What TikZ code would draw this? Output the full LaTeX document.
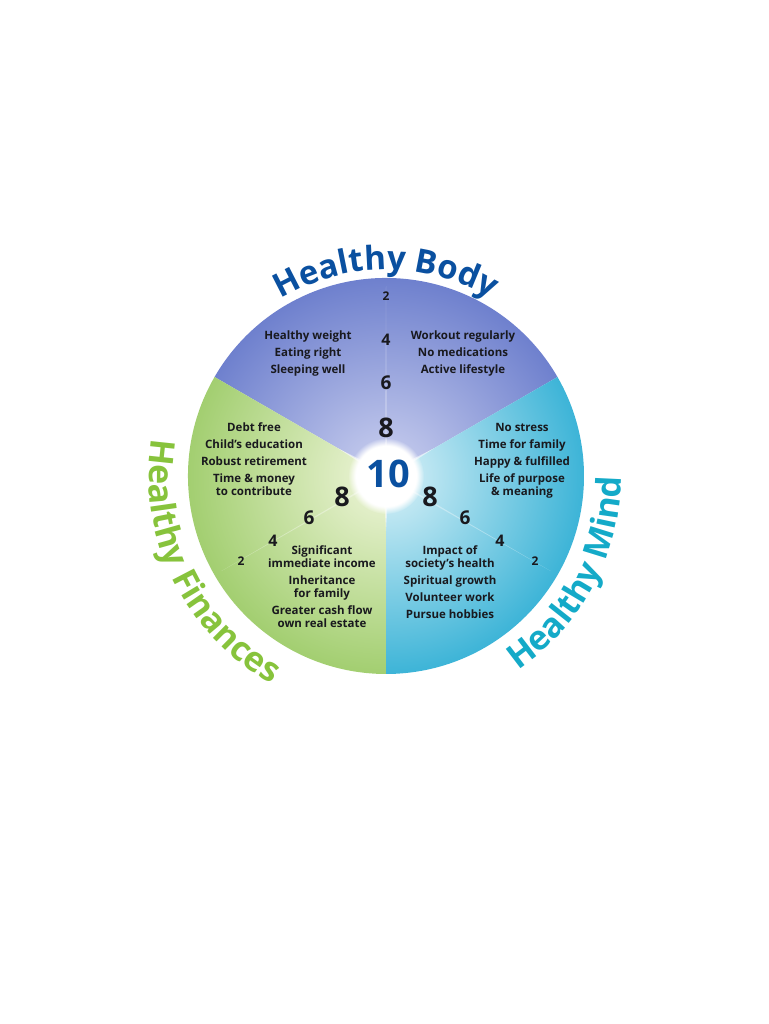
\documentclass[tikz,border=0pt]{standalone}
\usepackage{fontspec}
\setmainfont{Open Sans}
\usetikzlibrary{decorations.text,fadings,calc}
\definecolor{bodyblue}{RGB}{10,80,160}
\definecolor{finGreen}{RGB}{135,195,60}
\definecolor{mindCyan}{RGB}{20,170,200}
\definecolor{txt}{RGB}{25,25,30}
\begin{document}
\begin{tikzpicture}[x=1pt,y=1pt,
  lst/.style={font=\bfseries\fontsize{11.5}{13}\selectfont, text=txt, align=center, inner sep=0},
  num/.style={font=\bfseries, text=txt, inner sep=0}]
\useasboundingbox (0,0) rectangle (768,1024);
\coordinate (c) at (386,548);
% sectors
\begin{scope}
\clip (c) -- ++(30:198) arc[start angle=30,end angle=150,radius=198] -- cycle;
\shade[inner color={rgb,255:red,205;green,210;blue,240}, outer color={rgb,255:red,95;green,115;blue,200}] (c) circle (230);
\end{scope}
\begin{scope}
\clip (c) -- ++(150:198) arc[start angle=150,end angle=270,radius=198] -- cycle;
\shade[inner color={rgb,255:red,240;green,246;blue,220}, outer color={rgb,255:red,150;green,200;blue,95}] (c) circle (230);
\end{scope}
\begin{scope}
\clip (c) -- ++(270:198) arc[start angle=270,end angle=390,radius=198] -- cycle;
\shade[inner color={rgb,255:red,220;green,242;blue,248}, outer color={rgb,255:red,35;green,170;blue,210}] (c) circle (230);
\end{scope}
% light rays
\foreach \a in {90,210,330}{
  \fill[white,opacity=0.35] ($(c)+(\a+5:10)$) -- ($(c)+(\a:190)$) -- ($(c)+(\a-5:10)$) -- cycle;
}
\foreach \a in {30,150,270}{
  \fill[white,opacity=0.5] ($(c)+(\a+20:8)$) -- ($(c)+(\a:55)$) -- ($(c)+(\a-20:8)$) -- cycle;
}
\fill[white,path fading=circle with fuzzy edge 20 percent] (c) circle (38);
% titles
\path[decorate,decoration={text along path,text align=center,text color=bodyblue,
  text={|\bfseries\fontsize{33}{33}\selectfont|Healthy Body}}]
  ([shift={(155:206)}]c) arc[start angle=155,end angle=25,radius=206];
\path[decorate,decoration={text along path,text align=center,text color=mindCyan,
  text={|\bfseries\fontsize{34}{34}\selectfont|Healthy Mind}}]
  ([shift={(-85:235)}]c) arc[start angle=-85,end angle=29,radius=235];
\path[decorate,decoration={text along path,text align=center,text color=finGreen,
  text={|\bfseries\fontsize{34}{34}\selectfont|Healthy Finances}}]
  ([shift={(150:237)}]c) arc[start angle=150,end angle=262,radius=237];
% numbers
\node[num,font=\bfseries\fontsize{12}{12}\selectfont] (t2) at (386,728) {2};
\node[num,font=\bfseries\fontsize{16}{16}\selectfont] (t4) at (386,684) {4};
\node[num,font=\bfseries\fontsize{19}{19}\selectfont] (t6) at (386,641) {6};
\node[num,font=\bfseries\fontsize{27}{27}\selectfont] (t8) at (386,596) {8};
\node[num,text=bodyblue,font=\bfseries\fontsize{38}{38}\selectfont] (ten) at (388,550) {10};
\node[num,font=\bfseries\fontsize{27}{27}\selectfont] (l8) at (342,527) {8};
\node[num,font=\bfseries\fontsize{19}{19}\selectfont] (l6) at (309,506) {6};
\node[num,font=\bfseries\fontsize{16}{16}\selectfont] (l4) at (273,483) {4};
\node[num,font=\bfseries\fontsize{12}{12}\selectfont] (l2) at (241,463) {2};
\node[num,font=\bfseries\fontsize{27}{27}\selectfont] (r8) at (430,527) {8};
\node[num,font=\bfseries\fontsize{19}{19}\selectfont] (r6) at (465,506) {6};
\node[num,font=\bfseries\fontsize{16}{16}\selectfont] (r4) at (500,483) {4};
\node[num,font=\bfseries\fontsize{12}{12}\selectfont] (r2) at (535,463) {2};
% lists
\node[lst,anchor=north] (tl) at (308,693) {Healthy weight\\[4pt]Eating right\\[4pt]Sleeping well};
\node[lst,anchor=north] (tr) at (463,693) {Workout regularly\\[4pt]No medications\\[4pt]Active lifestyle};
\node[lst,anchor=north] (ll) at (254,601) {Debt free\\[4pt]Child's education\\[4pt]Robust retirement\\[4pt]Time \& money\\to contribute};
\node[lst,anchor=north] (rl) at (522,601) {No stress\\[4pt]Time for family\\[4pt]Happy \& fulfilled\\[4pt]Life of purpose\\\& meaning};
\node[lst,anchor=north] (bl) at (322,478) {Significant\\immediate income\\[4pt]Inheritance\\for family\\[4pt]Greater cash flow\\own real estate};
\node[lst,anchor=north] (br) at (450,478) {Impact of\\society's health\\[4pt]Spiritual growth\\[4pt]Volunteer work\\[4pt]Pursue hobbies};
\end{tikzpicture}
\end{document}
